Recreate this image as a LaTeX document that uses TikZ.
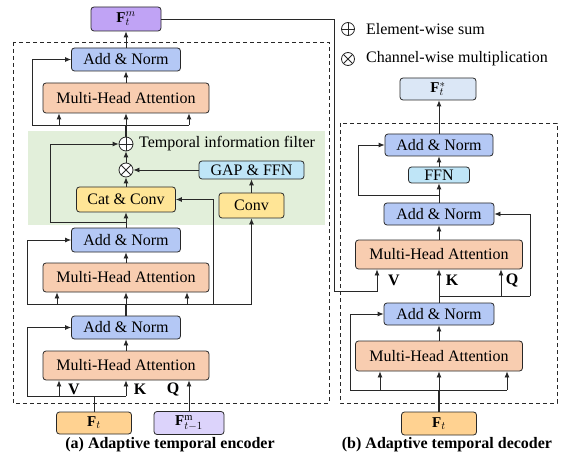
\documentclass[tikz,border=0pt]{standalone}
\usepackage{fontspec}
\setmainfont{Liberation Serif}
\newfontfamily\diagserif{Liberation Serif}
\usepackage{tikz}
\usetikzlibrary{arrows,arrows.meta,positioning,backgrounds}
\definecolor{normblue}{RGB}{180,200,245}
\definecolor{attnorange}{RGB}{248,205,176}
\definecolor{convyellow}{RGB}{255,229,150}
\definecolor{ffncyan}{RGB}{191,229,247}
\definecolor{filtergreen}{RGB}{226,239,218}
\definecolor{featorange}{RGB}{255,210,145}
\definecolor{featpurple}{RGB}{192,163,245}
\definecolor{featlilac}{RGB}{220,211,251}
\definecolor{featlight}{RGB}{219,231,246}
\definecolor{darktext}{RGB}{40,40,40}

\tikzset{
  blockbox/.style={draw=darktext, line width=0.8pt, rounded corners=3pt, inner sep=0pt,
    align=center, font=\diagserif\fontsize{16}{19}\selectfont},
  normbox/.style={blockbox, fill=normblue, minimum width=109pt, minimum height=23pt},
  attnbox/.style={blockbox, fill=attnorange, minimum width=166pt, minimum height=29pt},
  convbox/.style={blockbox, fill=convyellow, minimum height=25pt},
  ffnbox/.style={blockbox, fill=ffncyan, minimum height=18pt},
  featbox/.style={blockbox, minimum height=22pt, font=\diagserif\fontsize{15}{17}\selectfont},
  opsum/.style={circle, draw=darktext, fill=white, line width=0.8pt, minimum size=14pt, inner sep=0pt,
    path picture={\draw[line width=0.8pt] (path picture bounding box.north) -- (path picture bounding box.south)
      (path picture bounding box.west) -- (path picture bounding box.east);}},
  opprod/.style={circle, draw=darktext, fill=white, line width=0.8pt, minimum size=14pt, inner sep=0pt,
    path picture={\draw[line width=0.8pt] (path picture bounding box.north west) -- (path picture bounding box.south east)
      (path picture bounding box.south west) -- (path picture bounding box.north east);}},
  wire/.style={draw=darktext, line width=0.8pt},
  arr/.style={wire, -{Latex[length=6pt,width=5pt]}},
  thickwire/.style={draw=darktext, line width=1.6pt},
  dashedframe/.style={draw=darktext, line width=0.8pt, dash pattern=on 4pt off 3pt},
  plaintext/.style={inner sep=0pt, font=\diagserif\fontsize{16}{19}\selectfont},
  qkvlabel/.style={inner sep=0pt, font=\diagserif\fontsize{16}{19}\selectfont\bfseries},
}

\begin{document}
\begin{tikzpicture}[x=1pt,y=-1pt]
\useasboundingbox (0,0) rectangle (570,457);

\fill[filtergreen] (28,131) rectangle (325,225);
\draw[dashedframe] (13,42) rectangle (329,403);
\draw[dashedframe] (340,123) rectangle (557,403);

% encoder
\node[featbox, fill=featpurple, minimum width=70pt, minimum height=24pt] (ftm) at (126,19) {$\mathbf{F}_t^{m}$};
\node[normbox] (encan3) at (126,59.5) {Add \& Norm};
\node[attnbox, minimum height=30pt] (encmha3) at (126,98) {Multi-Head Attention};
\node[opsum] (sum) at (126,144) {};
\node[plaintext, anchor=west] (filterlbl) at (139,144) {Temporal information filter};
\node[opprod] (prod) at (126,170) {};
\node[ffnbox, minimum width=105pt] (gap) at (251.5,170) {GAP \& FFN};
\node[convbox, minimum width=99pt] (catconv) at (126,199.5) {Cat \& Conv};
\node[convbox, minimum width=65pt] (conv) at (251.5,205.5) {Conv};
\node[normbox, minimum height=24pt] (encan2) at (126,240) {Add \& Norm};
\node[attnbox] (encmha2) at (126,277.5) {Multi-Head Attention};
\node[normbox] (encan1) at (126,327.5) {Add \& Norm};
\node[attnbox] (encmha1) at (126,365.5) {Multi-Head Attention};
\node[featbox, fill=featorange, minimum width=75pt] (ft) at (94,423) {$\mathbf{F}_t$};
\node[featbox, fill=featlilac, minimum width=70pt, minimum height=23pt] (ftprev) at (189,423) {$\mathbf{F}^{\mathrm{m}}_{t-1}$};
\node[qkvlabel] (enclblv) at (74,389) {V};
\node[qkvlabel] (enclblk) at (140,389) {K};
\node[qkvlabel] (enclblq) at (173,389) {Q};

\coordinate (j1) at (94,396);
\coordinate (res1) at (27,396);
\coordinate (k1) at (126,396);
\draw[wire] (ft) -- (j1);
\draw[wire] (res1) -- (k1);
\draw[arr] (res1) |- (encan1);
\draw[arr] ([xshift=32]res1) -- ([xshift=-67]encmha1.south);
\draw[arr] (k1) -- (encmha1);
\draw[arr] (ftprev) -- (ftprev |- encmha1.south);
\draw[arr] (encmha1) -- (encan1);

\coordinate (j2) at (126,304);
\coordinate (res2) at (27,304);
\coordinate (cc2) at (213,304);
\coordinate (cv2) at (251.5,304);
\draw[thickwire] (encan1) -- (j2);
\draw[wire] (res2) -- (cv2);
\draw[arr] (j2) -- (encmha2);
\draw[arr] ([xshift=-69]j2) -- ([xshift=-69]encmha2.south);
\draw[arr] ([xshift=61]j2) -- ([xshift=61]encmha2.south);
\draw[arr] (res2) |- (encan2);
\draw[arr] (cc2) |- (catconv);
\draw[arr] (cv2) -- (conv);
\draw[arr] (encmha2) -- (encan2);

\coordinate (jf) at (126,222);
\coordinate (resf) at (50,222);
\draw[arr] (encan2) -- (catconv);
\draw[arr] (jf) -- (resf) |- (sum);
\draw[arr] (catconv) -- (prod);
\draw[arr] (prod) -- (sum);
\draw[arr] (gap) -- (prod);
\draw[arr] (conv) -- (gap);

\coordinate (j3) at (126,125);
\coordinate (res3) at (32,125);
\draw[thickwire] (sum) -- (j3);
\draw[wire] (res3) -- ([xshift=63]j3);
\draw[arr] (j3) -- (encmha3);
\draw[arr] ([xshift=-67]j3) -- ([xshift=-67]encmha3.south);
\draw[arr] ([xshift=63]j3) -- ([xshift=63]encmha3.south);
\draw[arr] (res3) |- (encan3);
\draw[arr] (encmha3) -- (encan3);
\draw[arr] (encan3) -- (ftm);

% decoder
\node[featbox, fill=featlight, minimum width=76pt] (fstar) at (438,89) {$\mathbf{F}_t^{*}$};
\node[normbox, minimum width=108pt, minimum height=22pt] (decan3) at (439,145) {Add \& Norm};
\node[ffnbox, minimum width=61pt, minimum height=16pt] (ffn) at (439,175) {FFN};
\node[normbox, minimum width=110pt, minimum height=22pt] (decan2) at (439,214) {Add \& Norm};
\node[attnbox, minimum width=167pt] (decmha2) at (439,254.5) {Multi-Head Attention};
\node[normbox, minimum width=110pt, minimum height=22pt] (decan1) at (439,314) {Add \& Norm};
\node[attnbox, minimum width=167pt, minimum height=30pt] (decmha1) at (439,356) {Multi-Head Attention};
\node[featbox, fill=featorange, minimum width=75pt, minimum height=23pt] (ftdec) at (439,423.5) {$\mathbf{F}_t$};
\node[qkvlabel] (declblv) at (394,280) {V};
\node[qkvlabel] (declblk) at (452,280) {K};
\node[qkvlabel] (declblq) at (512,280) {Q};

\coordinate (dj1) at (439,390);
\coordinate (dres1) at (350,390);
\coordinate (dq1) at (507,390);
\draw[thickwire] (ftdec) -- (dj1);
\draw[wire] (dres1) -- (dq1);
\draw[arr] (dj1) -- (decmha1);
\draw[arr] ([xshift=30]dres1) -- ([xshift=-59]decmha1.south);
\draw[arr] (dq1) -- (dq1 |- decmha1.south);
\draw[arr] (dres1) |- (decan1);
\draw[arr] (decmha1) -- (decan1);

\coordinate (dj2) at (439,296);
\coordinate (dr2) at (530,296);
\draw[wire] (decan1) -- (dj2) -- (dr2);
\draw[arr] (dj2) -- (decmha2);
\draw[arr] ([xshift=62]dj2) -- ([xshift=62]decmha2.south);
\draw[arr] (dr2) |- (decan2);
\draw[arr] (decmha2) -- (decan2);

\coordinate (vturn) at (334,291);
\draw[arr] (ftm.east) -| (vturn) -| ([xshift=-62]decmha2.south);

\coordinate (dj3) at (439,195);
\coordinate (dres3) at (358,195);
\draw[arr] (decan2) -- (ffn);
\draw[arr] (dj3) -- (dres3) |- (decan3);
\draw[arr] (ffn) -- (decan3);
\draw[arr] (decan3) -- (decan3 |- fstar.south);

% legend and captions
\node[opsum, minimum size=13pt] (legsum) at (348,29) {};
\node[plaintext, right=11pt of legsum] (legsumlbl) {Element-wise sum};
\node[opprod, minimum size=13pt] (legprod) at (348,59) {};
\node[plaintext, right=11pt of legprod] (legprodlbl) {Channel-wise multiplication};
\node[qkvlabel] (capenc) at (170,445) {(a) Adaptive temporal encoder};
\node[qkvlabel] (capdec) at (447,445) {(b) Adaptive temporal decoder};
\end{tikzpicture}
\end{document}
